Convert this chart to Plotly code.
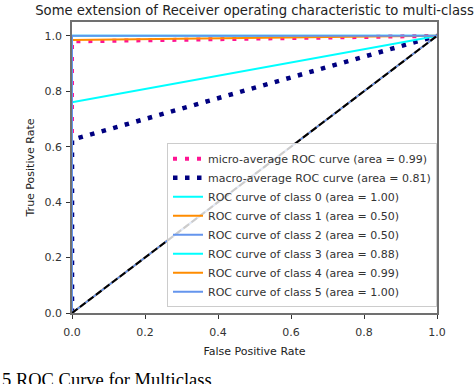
import plotly.graph_objects as go

# ---- data ----
micro_fpr = [0, 0, 1]
micro_tpr = [0, 0.98, 1]
macro_fpr = [0, 0, 1]
macro_tpr = [0, 0.625, 1]

class_names = ["0", "1", "2", "3", "4", "5"]
class_auc = [1.00, 0.50, 0.50, 0.88, 0.99, 1.00]
class_fpr = [[0, 0, 1], [0, 1], [0, 1], [0, 0, 1], [0, 0, 1], [0, 0, 1]]
class_tpr = [[0, 1, 1], [0, 1], [0, 1], [0, 0.76, 1], [0, 0.985, 1], [0, 1, 1]]
class_colors = ["aqua", "darkorange", "cornflowerblue", "aqua", "darkorange", "cornflowerblue"]

diag_x = [0, 1]
diag_y = [0, 1]

x_ticks = [0.0, 0.2, 0.4, 0.6, 0.8, 1.0]
y_ticks = [0.0, 0.2, 0.4, 0.6, 0.8, 1.0]

FONT = "DejaVu Sans"

fig = go.Figure()
fig.add_trace(go.Scatter(x=micro_fpr, y=micro_tpr, mode="lines",
                         name="micro-average ROC curve (area = 0.99)",
                         line=dict(color="deeppink", width=4, dash="4px,8px")))
fig.add_trace(go.Scatter(x=macro_fpr, y=macro_tpr, mode="lines",
                         name="macro-average ROC curve (area = 0.81)",
                         line=dict(color="navy", width=4.5, dash="4.5px,7.5px")))
for n, auc, fx, ty, c in zip(class_names, class_auc, class_fpr, class_tpr, class_colors):
    fig.add_trace(go.Scatter(x=fx, y=ty, mode="lines",
                             name=f"ROC curve of class {n} (area = {auc:.2f})",
                             line=dict(color=c, width=2)))
fig.add_trace(go.Scatter(x=diag_x, y=diag_y, mode="lines", showlegend=False,
                         line=dict(color="black", width=2, dash="7px,3px")))

axis_common = dict(showgrid=False, zeroline=False, showline=True, mirror=True,
                   linecolor="#707070", linewidth=1.5, ticks="outside",
                   ticklen=4, tickcolor="#333333", tickformat=".1f",
                   tickfont=dict(family=FONT, size=11, color="#333333"))

fig.update_xaxes(range=[0, 1], tickvals=x_ticks, ticklabelstandoff=4,
                 title=dict(text="False Positive Rate", font=dict(family=FONT, size=11, color="#222222"), standoff=9),
                 **axis_common)
fig.update_yaxes(range=[0, 1.05], tickvals=y_ticks, ticklabelstandoff=2,
                 title=dict(text="True Positive Rate", font=dict(family=FONT, size=11, color="#222222"), standoff=8),
                 **axis_common)

fig.update_layout(
    width=474, height=384,
    margin=dict(l=72, r=37, t=22, b=71),
    paper_bgcolor="white", plot_bgcolor="white",
    title=dict(text="Some extension of Receiver operating characteristic to multi-class",
               x=254.5 / 474, xanchor="center", y=1 - 10 / 384, yanchor="middle",
               font=dict(family=FONT, size=13.2, color="#222222")),
    legend=dict(x=1, y=0.02, xanchor="right", yanchor="bottom",
                bgcolor="rgba(255,255,255,0.8)", bordercolor="#cccccc", borderwidth=1,
                font=dict(family=FONT, size=11, color="#333333"),
                itemwidth=30, tracegroupgap=0),
    showlegend=True,
)

fig.add_annotation(text="5 ROC Curve for Multiclass", xref="paper", yref="paper",
                   x=-72 / 365, y=(313 - 368) / 291, xanchor="left", yanchor="top",
                   showarrow=False,
                   font=dict(family="Liberation Serif", size=18.5, color="black"))

fig.write_html("out.html", config={"displayModeBar": False},
               post_script="document.body.style.margin='0px';")
